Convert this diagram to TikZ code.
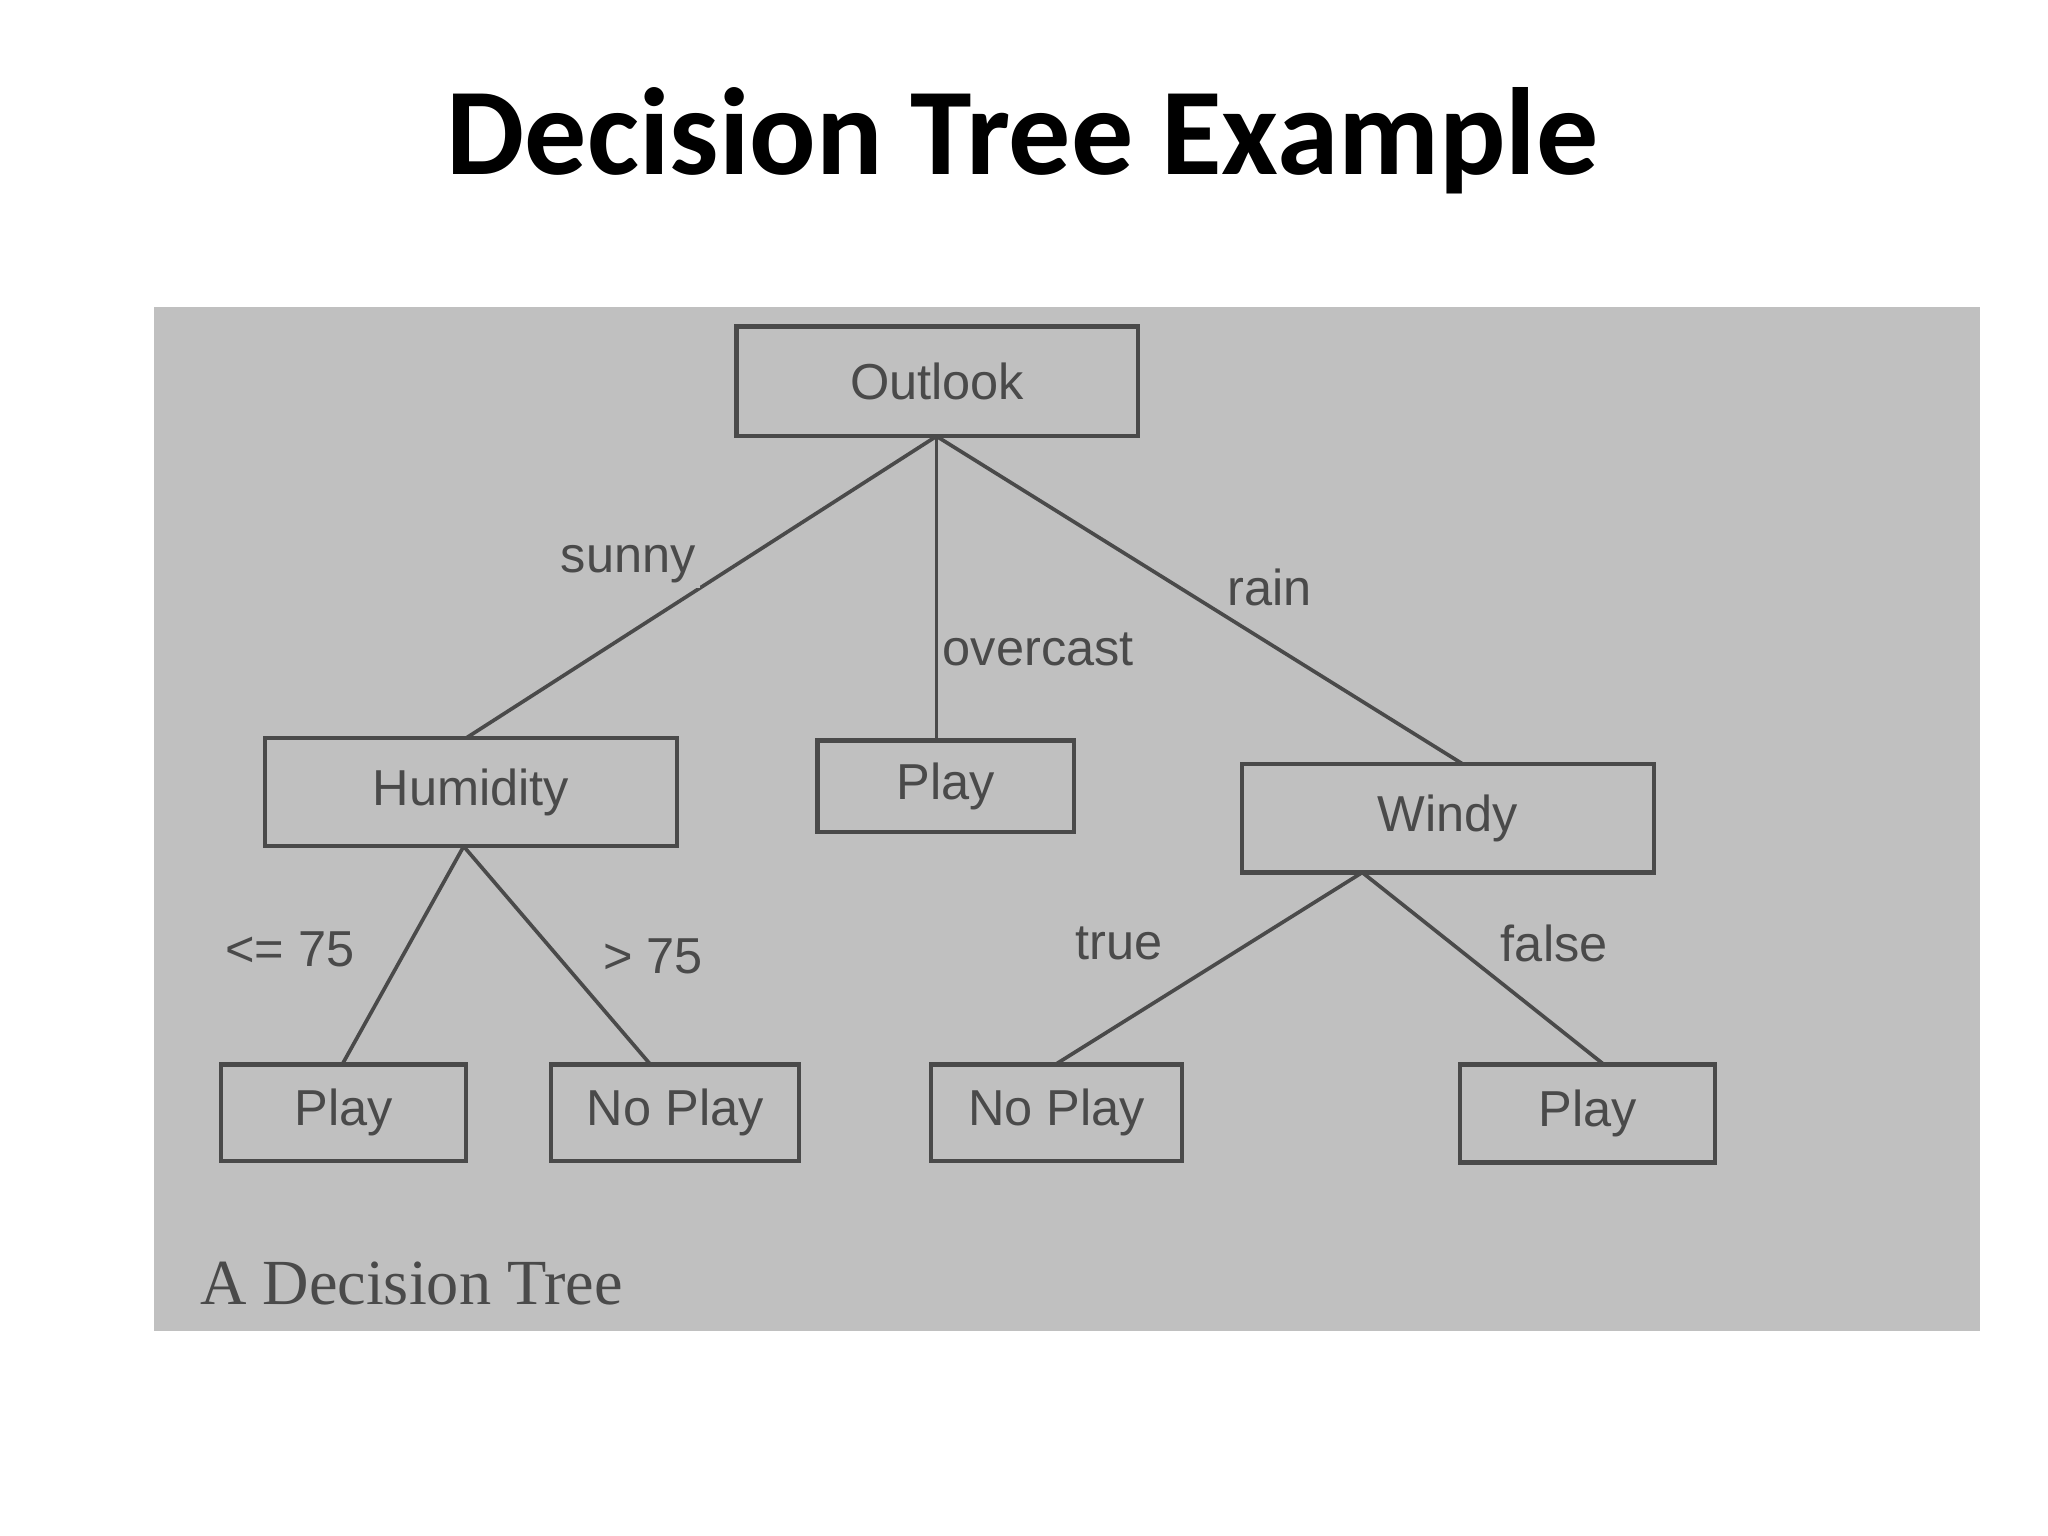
\documentclass[tikz,border=0pt]{standalone}
\usepackage{fontspec}
\setmainfont{Liberation Sans}
\newfontfamily\titlefont{Carlito}
\newfontfamily\capfont{Liberation Serif}
\definecolor{panel}{HTML}{C0C0C0}
\definecolor{ink}{HTML}{4A4A4A}
\begin{document}
\begin{tikzpicture}[x=0.01cm,y=-0.01cm,
  box/.style={draw=ink,line width=0.9pt,text=ink,font=\fontsize{11}{13}\selectfont},
  edge/.style={draw=ink,line width=0.8pt},
  lab/.style={text=ink,font=\fontsize{11}{13}\selectfont}]
\useasboundingbox (0,0) rectangle (1568,1176);
\fill[white] (0,0) rectangle (1568,1176);
\node[font=\titlefont\bfseries\fontsize{27}{32}\selectfont] (title) at (783,108) {Decision Tree Example};
\fill[panel] (118,235) rectangle (1516,1019);
\node[box,minimum width=3.07cm,minimum height=0.84cm] (outlook) at (717.5,292) {Outlook};
\node[box,minimum width=3.15cm,minimum height=0.83cm] (hum) at (360.5,606.5) {Humidity};
\node[box,minimum width=1.96cm,minimum height=0.70cm] (play1) at (724,602) {Play};
\node[box,minimum width=3.15cm,minimum height=0.83cm] (windy) at (1108.5,626.5) {Windy};
\node[box,minimum width=1.88cm,minimum height=0.74cm] (play2) at (263,852) {Play};
\node[box,minimum width=1.90cm,minimum height=0.74cm] (np1) at (517,852) {No Play};
\node[box,minimum width=1.92cm,minimum height=0.74cm] (np2) at (809,852) {No Play};
\node[box,minimum width=1.95cm,minimum height=0.75cm] (play3) at (1215.5,852.5) {Play};
\coordinate (o) at (717,334);
\draw[edge] (o) -- (357,565);
\draw[edge] (o) -- (717,567);
\draw[edge] (o) -- (1120,585);
\draw[edge] (355,648) -- (262,815);
\draw[edge] (355,648) -- (498,815);
\draw[edge] (1043,668) -- (808,815);
\draw[edge] (1043,668) -- (1228,815);
\node[lab,fill=panel,inner sep=1pt] (l1) at (481,432) {sunny};
\node[lab] (l2) at (795,497) {overcast};
\node[lab,fill=panel,inner sep=1pt] (l3) at (972,450) {rain};
\node[lab] (l4) at (222,727) {<= 75};
\node[lab] (l5) at (500,732) {> 75};
\node[lab] (l6) at (857,722) {true};
\node[lab] (l7) at (1190,722) {false};
\node[text=ink,font=\capfont\fontsize{14}{16}\selectfont] (cap) at (315,983) {A Decision Tree};
\end{tikzpicture}
\end{document}
